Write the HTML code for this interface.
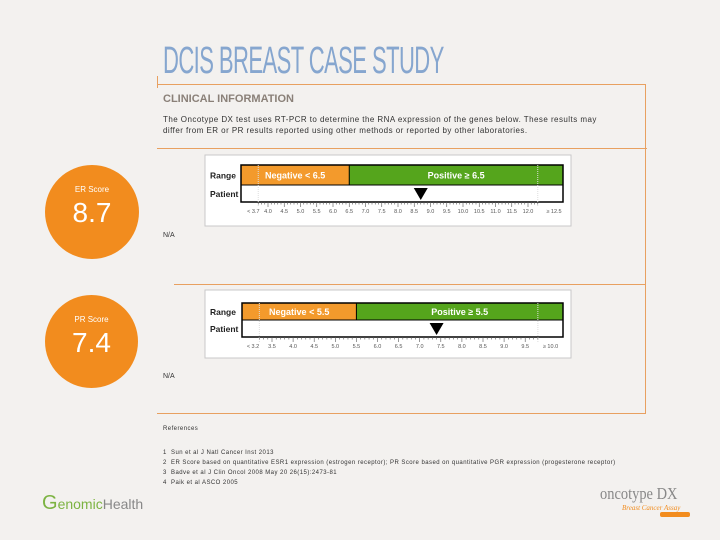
<!DOCTYPE html>
<html><head><meta charset="utf-8"><style>
body{margin:0;}
#page{position:relative;width:720px;height:540px;background:#f3f1ef;overflow:hidden;font-family:"Liberation Sans",sans-serif;}
.abs{position:absolute;}
.ol{position:absolute;background:#e8a060;}
</style></head><body>
<div id="page">
<div class="abs" style="left:163px;top:40px;font-family:'Liberation Sans Narrow','Liberation Sans',sans-serif;font-size:38px;color:#86a6cf;letter-spacing:-1px;transform:scaleX(0.58);transform-origin:left top;white-space:nowrap;">DCIS BREAST CASE STUDY</div>
<div class="ol" style="left:157px;top:76px;width:1px;height:12px;"></div>
<div class="ol" style="left:157px;top:84px;width:488px;height:1px;"></div>
<div class="ol" style="left:645px;top:84px;width:1px;height:330px;"></div>
<div class="ol" style="left:157px;top:148px;width:490px;height:1px;"></div>
<div class="ol" style="left:174px;top:284px;width:471px;height:1px;"></div>
<div class="ol" style="left:157px;top:413px;width:488px;height:1px;"></div>
<div class="abs" style="left:163px;top:93px;font-size:11px;font-weight:bold;color:#8a8078;">CLINICAL INFORMATION</div>
<div class="abs" style="left:163px;top:114px;font-size:8px;line-height:11px;color:#333;width:450px;letter-spacing:0.45px;">The Oncotype DX test uses RT-PCR to determine the RNA expression of the genes below. These results may differ from ER or PR results reported using other methods or reported by other laboratories.</div>

<div class="abs" style="left:45px;top:165px;width:94px;height:94px;border-radius:50%;background:#f28c1e;color:#fff;text-align:center;">
<div style="font-size:8px;margin-top:20px;">ER Score</div><div style="font-size:28px;margin-top:3px;">8.7</div></div>
<div class="abs" style="left:45px;top:295px;width:93px;height:93px;border-radius:50%;background:#f28c1e;color:#fff;text-align:center;">
<div style="font-size:8px;margin-top:20px;">PR Score</div><div style="font-size:28px;margin-top:3px;">7.4</div></div>
<div class="abs" style="left:163px;top:232px;font-size:7px;color:#333;">N/A</div>
<div class="abs" style="left:163px;top:373px;font-size:7px;color:#333;">N/A</div>

<svg class="abs" style="left:0;top:0" width="720" height="540"><g id="charts"></g></svg>

<div class="abs" style="left:163px;top:424px;font-size:6px;color:#333;line-height:10px;letter-spacing:0.45px;white-space:nowrap;">
<div style="margin-bottom:14px;">References</div>
<div>1&nbsp; Sun et al J Natl Cancer Inst 2013</div>
<div>2&nbsp; ER Score based on quantitative ESR1 expression (estrogen receptor); PR Score based on quantitative PGR expression (progesterone receptor)</div>
<div>3&nbsp; Badve et al J Clin Oncol 2008 May 20 26(15):2473-81</div>
<div>4&nbsp; Paik et al ASCO 2005</div>
</div>
<div class="abs" style="left:42px;top:492px;font-size:14px;white-space:nowrap;"><span style="color:#7cb342;font-size:20px;">G</span><span style="color:#7cb342;">enomic</span><span style="color:#888;">Health</span></div>
<div class="abs" style="left:600px;top:484px;width:95px;height:40px;">
<div style="font-family:'Liberation Serif',serif;font-size:17px;color:#888;white-space:nowrap;transform:scaleX(0.85);transform-origin:left top;">oncotype DX</div>
<div style="font-family:'Liberation Serif',serif;font-style:italic;font-size:7px;color:#f28c1e;margin-left:22px;">Breast Cancer Assay</div>
<div style="width:30px;height:5px;background:#f28c1e;border-radius:2px;margin-left:60px;"></div></div>
</div>
<script>
const erTicks=["< 3.7","4.0","4.5","5.0","5.5","6.0","6.5","7.0","7.5","8.0","8.5","9.0","9.5","10.0","10.5","11.0","11.5","12.0","≥ 12.5"];
const erTickVals=[3.55,4.0,4.5,5.0,5.5,6.0,6.5,7.0,7.5,8.0,8.5,9.0,9.5,10.0,10.5,11.0,11.5,12.0,12.8];
const erCut=[6.5];
const erPatient=[8.7];
const prTicks=["< 3.2","3.5","4.0","4.5","5.0","5.5","6.0","6.5","7.0","7.5","8.0","8.5","9.0","9.5","≥ 10.0"];
const prTickVals=[3.05,3.5,4.0,4.5,5.0,5.5,6.0,6.5,7.0,7.5,8.0,8.5,9.0,9.5,10.1];
const prCut=[5.5];
const prPatient=[7.4];
const NS="http://www.w3.org/2000/svg";
const g=document.getElementById('charts');
function mk(t,a,txt){const e=document.createElementNS(NS,t);for(const k in a)e.setAttribute(k,a[k]);if(txt!=null)e.textContent=txt;g.appendChild(e);return e;}
function chart(name,box,bar,x,lo,hi,cut,pat,ticks,vals,negLbl,posLbl){
 let e=mk('rect',{x:box[0],y:box[1],width:box[2],height:box[3],fill:'#fff',stroke:'#c8c8c8'});
 
 const [bx,by,bw,rh,ph]=[bar[0],bar[1],bar[2],bar[3],bar[4]];
 e=mk('rect',{x:bx,y:by,width:x(cut)-bx,height:rh,fill:'#f39a2c'});
 
 e=mk('rect',{x:x(cut),y:by,width:bx+bw-x(cut),height:rh,fill:'#55a51c'});
 
 mk('rect',{x:bx,y:by,width:bw,height:rh+ph,fill:'none',stroke:'#000','stroke-width':1.5});
 mk('line',{x1:bx,x2:bx+bw,y1:by+rh,y2:by+rh,stroke:'#000','stroke-width':1});
 mk('line',{x1:x(cut),x2:x(cut),y1:by,y2:by+rh,stroke:'#000','stroke-width':1});
 [lo,hi].forEach(v=>mk('line',{x1:x(v),x2:x(v),y1:by,y2:by+rh+ph+5,stroke:'#ddd','stroke-dasharray':'1,1'}));
 e=mk('text',{x:(bx+x(cut))/2,y:by+rh/2+3.5,'text-anchor':'middle','font-size':9,'font-weight':'bold',fill:'#fff'},negLbl);
 
 e=mk('text',{x:(x(cut)+bx+bw)/2,y:by+rh/2+3.5,'text-anchor':'middle','font-size':9,'font-weight':'bold',fill:'#fff'},posLbl);
 
 mk('text',{x:box[0]+5,y:by+rh/2+3.5,'font-size':8.5,'font-weight':'bold',fill:'#222'},'Range');
 mk('text',{x:box[0]+5,y:by+rh+ph/2+3.5,'font-size':8.5,'font-weight':'bold',fill:'#222'},'Patient');
 const yb=by+rh+ph;
 for(let v=Math.ceil(lo*10);v<=hi*10;v++){const big=v%5==0;mk('line',{x1:x(v/10),x2:x(v/10),y1:yb,y2:yb+(big?5:2.5),stroke:'#555','stroke-width':0.6});}
 ticks.forEach((t,i)=>{const e=mk('text',{x:x(vals[i]),y:yb+11,'text-anchor':'middle','font-size':5.5,fill:'#555'},t);
  });
 const px=x(pat),py=by+rh+3;
 e=mk('polygon',{points:`${px-7},${py} ${px+7},${py} ${px},${py+12}`,fill:'#000'});
 
}
const xe=v=>268+(v-4)*32.5;
chart('er-chart',[205,155,366,71],[241,165,322,20,17],xe,3.7,12.3,erCut[0],erPatient[0],erTicks,erTickVals,'Negative  < 6.5','Positive ≥ 6.5');
const xp=v=>272+(v-3.5)*42.2;
chart('pr-chart',[205,290,366,68],[242,303,321,17,17],xp,3.2,9.8,prCut[0],prPatient[0],prTicks,prTickVals,'Negative  < 5.5','Positive ≥ 5.5');
</script>
</body></html>
